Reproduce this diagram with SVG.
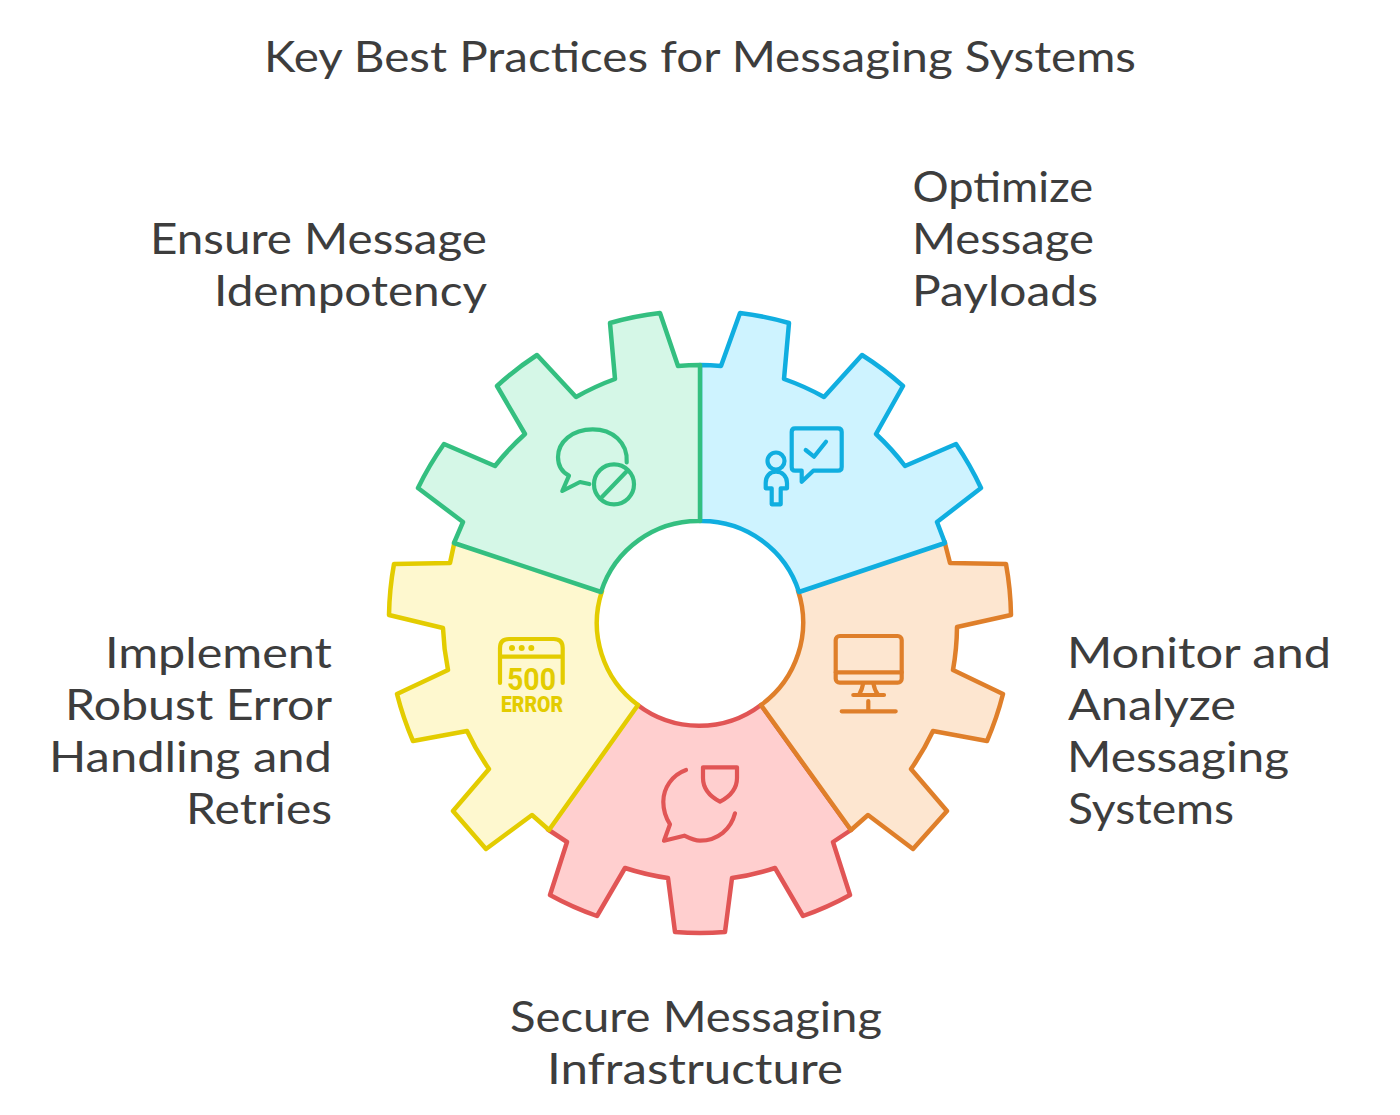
<svg xmlns="http://www.w3.org/2000/svg" width="1400" height="1115" viewBox="0 0 1400 1115">
<style>
.t{font-family:"Lato","Noto Sans",sans-serif;font-size:42px;fill:#3d3d3d;letter-spacing:0}
.g{stroke-width:4.500;stroke-linejoin:round;stroke-linecap:round}
.i{fill:none;stroke-width:4.200;stroke-linejoin:round;stroke-linecap:round}
.green .g{fill:#d5f7e7;stroke:#34bf80}.green .i{stroke:#34bf80}
.blue .g{fill:#cef3ff;stroke:#10aee0}.blue .i{stroke:#10aee0}
.yellow .g{fill:#fef8cf;stroke:#e3cc00}.yellow .i{stroke:#e3cc00}
.orange .g{fill:#fde6d0;stroke:#df7f2a}.orange .i{stroke:#df7f2a}
.red .g{fill:#ffcfcf;stroke:#e15555}.red .i{stroke:#e15555}
</style>
<rect width="1400" height="1115" fill="#ffffff"/>
<g id="title"><text class="t" x="264" y="72" textLength="872" lengthAdjust="spacingAndGlyphs">Key Best Practices for Messaging Systems</text></g>

<g id="node-secure" class="red">
<path class="g" d="M637,704.500 A102,102 0 0 0 761,705 L851,830 L833,842 L850,895 A311,311 0 0 1 803,916 L775,868 A257,257 0 0 1 732,878 L725,932 A311,311 0 0 1 675,932 L668,878 A257,257 0 0 1 625,868 L597,916 A311,311 0 0 1 550,895 L567,842 L548,829.500 Z"/>
<path class="i" d="M703,767.300 H737 V778 C737,790 729,797 720,801.700 C711,797 703,790 703,778 Z"/>
<path class="i" d="M686,770 C672,775 663.300,788 663.300,801.700 C663.300,810 666,818 670,824.300 L664,840.700 L684.300,835.700 C691,839 695,840.700 700,840.700 C718,840.700 731,829 735,813.300"/>
<text class="t" x="510" y="1032" textLength="372" lengthAdjust="spacingAndGlyphs">Secure Messaging</text>
<text class="t" x="547" y="1084" textLength="296" lengthAdjust="spacingAndGlyphs">Infrastructure</text>
</g>

<g id="node-error" class="yellow">
<path class="g" d="M454.500,542 L450,563 L394,564 A311,311 0 0 0 389,615 L443,628 A257,257 0 0 0 448,670 L397,694 A311,311 0 0 0 413,741 L467,731 A257,257 0 0 0 489,769 L453,811 L486,849 L532,815 L549,830 L638,705 A102,102 0 0 1 602,591 Z"/>
<path class="i" d="M500,683 V648 Q500,639 509,639 H553.700 Q562.700,639 562.700,648 V683 M500,656.700 H562.700"/>
<circle cx="512" cy="648" r="3" fill="#e3cc00"/><circle cx="521.700" cy="648" r="3" fill="#e3cc00"/><circle cx="531.300" cy="648" r="3" fill="#e3cc00"/>
<text x="507" y="690" textLength="49" lengthAdjust="spacingAndGlyphs" style="font-family:Roboto,sans-serif;font-size:32px;font-weight:700;fill:#e3cc00">500</text>
<text x="501" y="711.500" textLength="62" lengthAdjust="spacingAndGlyphs" style="font-family:Roboto,sans-serif;font-size:22px;font-weight:900;fill:#e3cc00">ERROR</text>
<text class="t" x="105" y="668" textLength="227" lengthAdjust="spacingAndGlyphs">Implement</text>
<text class="t" x="65" y="720" textLength="267" lengthAdjust="spacingAndGlyphs">Robust Error</text>
<text class="t" x="49" y="772" textLength="283" lengthAdjust="spacingAndGlyphs">Handling and</text>
<text class="t" x="186" y="824" textLength="146" lengthAdjust="spacingAndGlyphs">Retries</text>
</g>

<g id="node-monitor" class="orange">
<path class="g" d="M944.500,541.500 L950,563 L1006,564 A311,311 0 0 1 1011,615 L957,627 A257,257 0 0 1 953,670 L1003,694 A311,311 0 0 1 987,741 L933,731 A257,257 0 0 1 911,769 L947,811 L913,849 L868,815 L851,830 L761,705 A102,102 0 0 0 798,590.500 Z"/>
<rect class="i" x="835.700" y="636" width="66" height="46.700" rx="4"/>
<path class="i" d="M835.700,672.300 H901.700 M863.300,683 Q862,690 859.300,694.300 M873.300,683 Q874.500,690 877.700,694.300 M853.300,695 H884 M841.700,711.300 H895.700 M868.300,701 V711.300"/>
<text class="t" x="1067" y="668" textLength="264" lengthAdjust="spacingAndGlyphs">Monitor and</text>
<text class="t" x="1068" y="720" textLength="168" lengthAdjust="spacingAndGlyphs">Analyze</text>
<text class="t" x="1067" y="772" textLength="222" lengthAdjust="spacingAndGlyphs">Messaging</text>
<text class="t" x="1068" y="824" textLength="166" lengthAdjust="spacingAndGlyphs">Systems</text>
</g>

<g id="node-optimize" class="blue">
<path class="g" d="M700,365 A257,257 0 0 1 721,366 L740,313 A311,311 0 0 1 789,323 L784,379 A257,257 0 0 1 824,397 L862,355 A311,311 0 0 1 903,386 L876,434 A257,257 0 0 1 905,466 L956,444 A311,311 0 0 1 981,488 L937,522 L945,543 L799,592 A102,102 0 0 0 700,521 Z"/>
<path class="i" d="M813.300,470.700 L801.700,481.700 V470.700 H795 Q791.700,470.700 791.700,467 V432 Q791.700,428.300 795,428.300 H838 Q841.700,428.300 841.700,432 V467 Q841.700,470.700 838,470.700 Z M805.700,450 L814,456.700 L826,441.700"/>
<circle class="i" cx="776" cy="461" r="8.500"/>
<path class="i" d="M771.700,504.300 H780.700 V488.300 H787 V483 C787,476 782,471.700 776,471.700 C770,471.700 765.700,476 765.700,483 V488.300 H771.700 Z"/>
<text class="t" x="912.500" y="202" textLength="180.500" lengthAdjust="spacingAndGlyphs">Optimize</text>
<text class="t" x="912" y="254" textLength="182" lengthAdjust="spacingAndGlyphs">Message</text>
<text class="t" x="912" y="306" textLength="186" lengthAdjust="spacingAndGlyphs">Payloads</text>
</g>

<g id="node-idempotency" class="green">
<path class="g" d="M700,365 A257,257 0 0 0 678,366 L660,313 A311,311 0 0 0 610,323 L615,379 A257,257 0 0 0 576,397 L537,355 A311,311 0 0 0 497,386 L525,434 A257,257 0 0 0 495,466 L444,444 A311,311 0 0 0 418,488 L463,522 L454,543 L601,592 A102,102 0 0 1 700,521 Z"/>
<path class="i" d="M626.700,462.300 C628,442 612,429.300 592.700,429.300 C572,429.300 558,442 558,457 C558,465 562,472 569,475.700 L562.300,491 L580,482 L589.300,484"/>
<circle class="i" cx="614" cy="484.300" r="20"/>
<path class="i" d="M602,497 L627,471"/>
<text class="t" x="150" y="254" textLength="337" lengthAdjust="spacingAndGlyphs">Ensure Message</text>
<text class="t" x="214" y="306" textLength="273" lengthAdjust="spacingAndGlyphs">Idempotency</text>
</g>
<g id="connectors"></g>
</svg>
